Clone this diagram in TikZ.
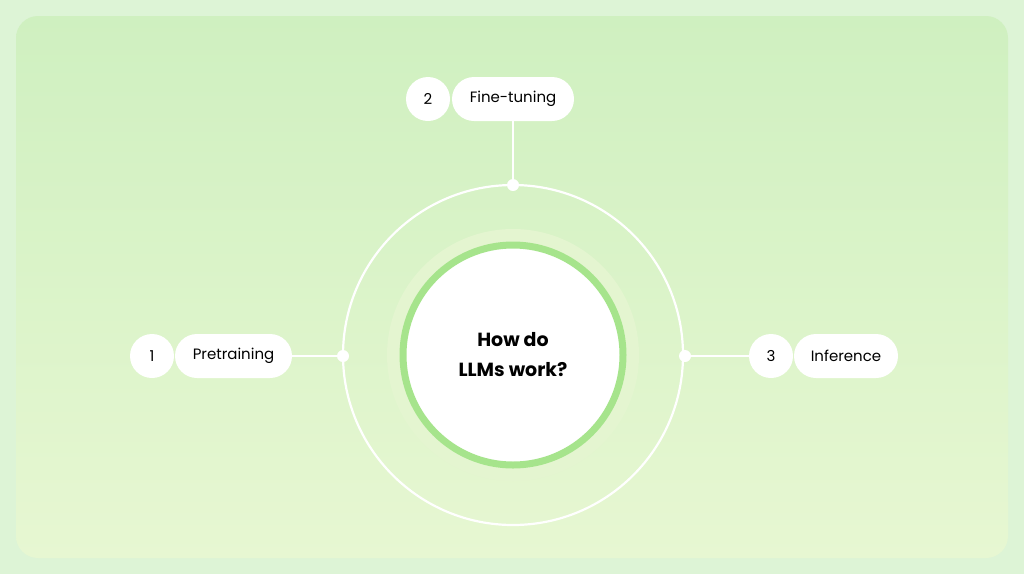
\documentclass[tikz,border=0pt]{standalone}
\usepackage{fontspec}
\setmainfont{Poppins}
\begin{document}
\begin{tikzpicture}[x=1pt,y=-1pt,
  pill/.style={draw=none,fill=white,rounded corners=22pt,minimum height=44pt,inner xsep=14pt,font=\fontsize{15}{18}\selectfont},
  num/.style={circle,fill=white,minimum size=44pt,inner sep=0pt,font=\fontsize{15}{18}\selectfont},
  dot/.style={circle,fill=white,minimum size=12pt,inner sep=0pt},
  conn/.style={white,line width=2pt}]
\definecolor{outerbg}{HTML}{DDF4D6}
\definecolor{topg}{HTML}{CFF0C0}
\definecolor{botg}{HTML}{E7F7D2}
\definecolor{ring}{HTML}{A6E48C}
\definecolor{glow}{HTML}{E4F5D0}
\useasboundingbox (0,0) rectangle (1024,574);
\fill[outerbg] (0,0) rectangle (1024,574);
\shade[top color=topg,bottom color=botg,rounded corners=22pt] (16,16) rectangle (1008,558);
\draw[white,line width=2.2pt] (513,355) circle (170);
\fill[glow] (513,355) circle (126);
\fill[white] (513,355) circle (110);
\draw[ring,line width=7pt] (513,355) circle (110);
\node[align=center,font=\fontsize{19}{30}\selectfont\bfseries] (c) at (513,355) {How do\\LLMs work?};
\node[dot] (d2) at (513,185) {};
\node[dot] (d1) at (343,356) {};
\node[dot] (d3) at (685,356) {};
\node[pill,minimum width=122pt] (p2) at (513,99) {Fine-tuning};
\node[num] (n2) at (428,99) {2};
\node[pill,minimum width=117pt] (p1) at (233.5,356) {Pretraining};
\node[num] (n1) at (152,356) {1};
\node[pill,minimum width=104pt] (p3) at (846,356) {Inference};
\node[num] (n3) at (771,356) {3};
\draw[conn] (p2.south) -- (d2);
\draw[conn] (p1.east) -- (d1);
\draw[conn] (d3) -- (n3.west);
\end{tikzpicture}
\end{document}
